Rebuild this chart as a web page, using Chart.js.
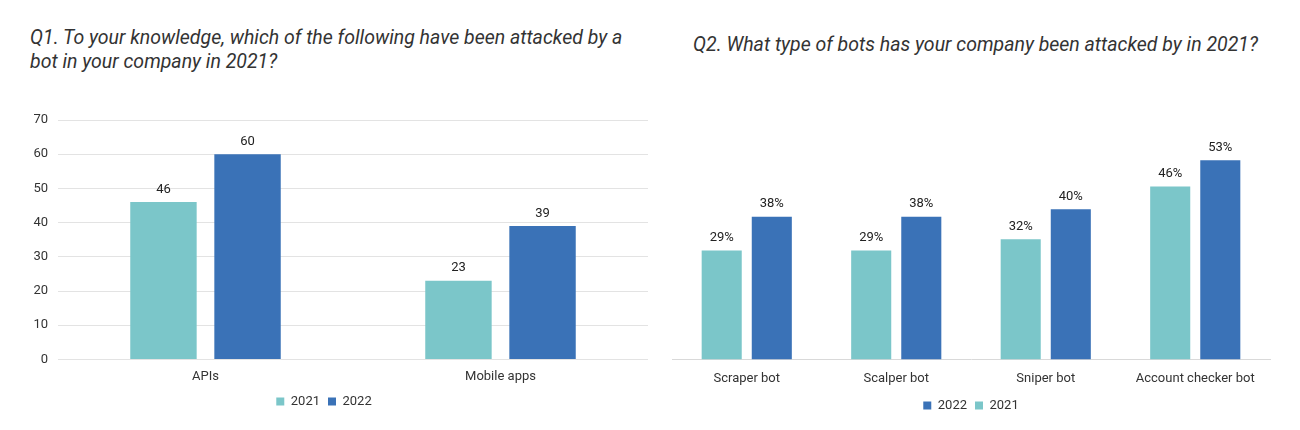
<!DOCTYPE html>
<html>
<head>
<meta charset="utf-8">
<script src="https://cdn.jsdelivr.net/npm/chart.js@4.4.1/dist/chart.umd.min.js"></script>
<style>
    body { margin: 0; background: #fff; width: 1300px; height: 430px; position: relative; overflow: hidden; font-family: Roboto, sans-serif; }
    .title { position: absolute; font-style: italic; font-size: 19.5px; line-height: 24px; color: #333; }
    .box { position: absolute; top: 100px; height: 330px; }
</style>
</head>
<body>
<div class="title" style="left:30px; top:26px; width:640px;">Q1. To your knowledge, which of the following have been attacked by a<br>bot in your company in 2021?</div>
<div class="title" style="left:693px; top:33px;">Q2. What type of bots has your company been attacked by in 2021?</div>
<div class="box" style="left:0; width:660px;"><canvas id="leftChart"></canvas></div>
<div class="box" style="left:660px; width:640px;"><canvas id="rightChart"></canvas></div>

<script>
// ========================================
// DATA
// ========================================

const q1Categories = ['APIs', 'Mobile apps'];
const q1Values2021 = [46, 23];
const q1Values2022 = [60, 39];
const q1Ticks = [0, 10, 20, 30, 40, 50, 60, 70];

const q2Categories = ['Scraper bot', 'Scalper bot', 'Sniper bot', 'Account checker bot'];
const q2Values2021 = [29, 29, 32, 46];
const q2Values2022 = [38, 38, 40, 53];

const TEAL = '#7bc6c9';
const BLUE = '#3a72b7';

// draws value labels above each bar
const barLabels = {
    id: 'barLabels',
    afterDatasetsDraw(chart, args, opts) {
        const ctx = chart.ctx;
        ctx.save();
        ctx.font = '13px Roboto';
        ctx.fillStyle = '#222';
        ctx.textAlign = 'center';
        ctx.textBaseline = 'bottom';
        chart.data.datasets.forEach((ds, i) => {
            chart.getDatasetMeta(i).data.forEach((bar, j) => {
                ctx.fillText(ds.data[j] + (opts.suffix || ''), bar.x, bar.y - 6);
            });
        });
        ctx.restore();
    }
};

function legendOpts(reverse) {
    return {
        position: 'bottom',
        reverse: reverse,
        labels: {
            boxWidth: 8,
            boxHeight: 8,
            padding: 8,
            color: '#333',
            font: { family: 'Roboto', size: 13 }
        }
    };
}

Chart.defaults.animation = false;

new Chart(document.getElementById('leftChart'), {
    type: 'bar',
    data: {
        labels: q1Categories,
        datasets: [
            { label: '2021', data: q1Values2021, backgroundColor: TEAL },
            { label: '2022', data: q1Values2022, backgroundColor: BLUE }
        ]
    },
    plugins: [barLabels],
    options: {
        responsive: true,
        maintainAspectRatio: false,
        categoryPercentage: 0.57,
        barPercentage: 0.79,
        layout: { padding: { top: 20, right: 12, bottom: 12, left: 0 } },
        plugins: {
            legend: legendOpts(false),
            tooltip: { enabled: false },
            barLabels: { suffix: '' }
        },
        scales: {
            x: {
                grid: { display: false },
                border: { display: false },
                ticks: { color: '#333', font: { family: 'Roboto', size: 13 }, padding: 2 }
            },
            y: {
                min: 0,
                max: 70,
                afterBuildTicks: scale => { scale.ticks = q1Ticks.map(v => ({ value: v })); },
                afterFit: scale => { scale.width = 58; },
                grid: { color: '#e3e3e3', drawTicks: false },
                border: { display: false },
                ticks: { color: '#333', font: { family: 'Roboto', size: 13 }, padding: 10 }
            }
        }
    }
});

new Chart(document.getElementById('rightChart'), {
    type: 'bar',
    data: {
        labels: q2Categories,
        datasets: [
            { label: '2021', data: q2Values2021, backgroundColor: TEAL },
            { label: '2022', data: q2Values2022, backgroundColor: BLUE }
        ]
    },
    plugins: [barLabels],
    options: {
        responsive: true,
        maintainAspectRatio: false,
        categoryPercentage: 0.67,
        barPercentage: 0.8,
        layout: { padding: { top: 34, right: 30, bottom: 8, left: 12 } },
        plugins: {
            legend: legendOpts(true),
            tooltip: { enabled: false },
            barLabels: { suffix: '%' }
        },
        scales: {
            x: {
                grid: { display: false },
                border: { display: true, color: '#d9d9d9' },
                ticks: { color: '#333', font: { family: 'Roboto', size: 13 }, padding: 4 }
            },
            y: {
                display: false,
                min: 0,
                max: 60
            }
        }
    }
});
</script>
</body>
</html>
